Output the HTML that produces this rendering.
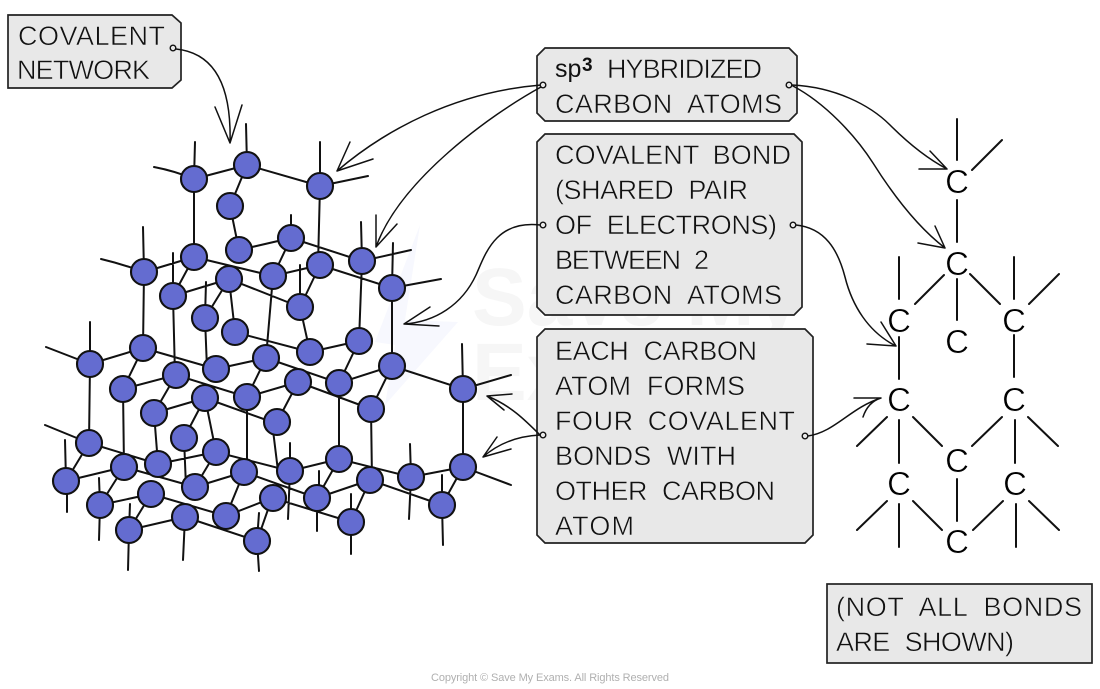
<!DOCTYPE html>
<html><head><meta charset="utf-8"><style>
html,body{margin:0;padding:0;background:#fff}
svg{display:block}
.t{font-family:"Liberation Sans",sans-serif;font-size:27px;fill:#111}
.c{font-family:"Liberation Sans",sans-serif;font-size:33px;fill:#000;text-anchor:middle}
.box{fill:#e8e8e8;stroke:#222;stroke-width:1.7}
.w{font-family:"Liberation Sans",sans-serif;font-weight:bold;font-size:82px;fill:#f6f6f6}
</style></head><body>
<svg width="1100" height="689" viewBox="0 0 1100 689" xmlns="http://www.w3.org/2000/svg">
<polygon points="375,342 420,225 405,320 458,322 385,405 395,345" fill="#f7f8fe"/>
<text class="w" x="472" y="325">Save My</text>
<text class="w" x="472" y="400">Exams</text>

<!-- network bonds -->
<path fill="none" stroke="#111" stroke-width="2" stroke-linecap="round" d="
M194,179L247,165 M154,167Q175,171 194,179 M195,142L194,179 M246,124L247,165 M247,165L320,186 M247,165L230,206 M230,206L239,250 M239,250L291,238 M194,179L194,257 M320,186L318,265 M320,142L320,186 M320,186L368,176
M291,238L273,276 M291,238L291,215 M291,238L362,261 M320,265L392,288 M273,276L320,265 M320,265L300,307 M300,265L300,307 M194,257L273,276 M229,279L300,307 M229,279L173,296 M194,257L173,296 M144,272L194,257 M144,272L143,227 M101,259Q122,264 144,272 M173,253L173,296 M205,318L229,279 M206,282L205,318 M229,279L235,332 M144,272L143,348 M173,296L175,375 M205,318L207,369 M273,276L266,358
M90,364L46,347 M90,322L90,364 M90,364L143,348 M143,348L123,389 M143,348L216,369 M123,389L176,375 M176,375L154,413 M176,375L247,397 M216,369L266,358 M266,358L247,397 M247,397L298,382 M205,398L272,422 M205,398L154,413 M205,398L184,438 M205,398L216,452 M247,397L247,472 M90,364L89,443 M123,389L124,467 M154,413L158,464 M184,438L186,487 M89,443L45,425 M89,443L158,464 M89,443L66,481 M66,481L124,467 M65,440L66,481 M67,481L67,512 M124,467L195,487 M124,467L100,505 M100,505L151,494 M99,478L100,505 M100,505L99,540 M158,464L216,452 M216,452L195,487 M216,452L290,471 M195,487L244,472 M244,472L226,516 M151,494L129,530 M151,494L226,516 M129,530L185,517 M130,504L129,530 M129,530L128,570 M185,517L183,560 M185,517L257,541 M226,516L272,498 M257,541L259,513 M257,541L259,571 M257,541L272,498 M244,472L317,498 M273,498L351,522
M290,471L339,459 M339,459L317,498 M317,498L370,480 M370,480L351,522 M339,459L411,477 M411,477L463,467 M370,480L442,505 M442,505L463,467 M463,467L511,485 M463,389L463,467 M290,443L290,471 M290,471L288,519 M317,498L317,531 M319,471L319,498 M351,494L351,522 M351,522L351,554 M410,444L411,477 M411,477L409,519 M442,475L442,505 M442,505L443,545 M272,422L278,471 M339,383L339,459 M371,409L372,480
M300,307L310,352 M310,352L359,341 M359,341L339,383 M339,383L392,366 M392,366L371,409 M392,366L463,389 M392,288L392,366 M362,261L359,341 M362,261L361,222 M362,261L411,250 M392,288L393,243 M392,288L441,279 M463,389L462,344 M463,389L511,375 M298,382L371,409 M298,382L277,422 M234,332L310,352 M266,358L339,383"/>

<!-- atoms -->
<g fill="#646cd0" stroke="#111" stroke-width="2.1">
<circle cx="194" cy="179" r="13"/><circle cx="247" cy="165" r="13"/><circle cx="320" cy="186" r="13"/><circle cx="230" cy="206" r="13"/><circle cx="239" cy="250" r="13"/><circle cx="291" cy="238" r="13"/><circle cx="194" cy="257" r="13"/><circle cx="144" cy="272" r="13"/><circle cx="173" cy="296" r="13"/><circle cx="229" cy="279" r="13"/><circle cx="273" cy="276" r="13"/><circle cx="320" cy="265" r="13"/><circle cx="362" cy="261" r="13"/><circle cx="392" cy="288" r="13"/><circle cx="300" cy="307" r="13"/><circle cx="205" cy="318" r="13"/><circle cx="235" cy="332" r="13"/><circle cx="266" cy="358" r="13"/><circle cx="310" cy="352" r="13"/><circle cx="359" cy="341" r="13"/><circle cx="392" cy="366" r="13"/><circle cx="339" cy="383" r="13"/><circle cx="298" cy="382" r="13"/><circle cx="371" cy="409" r="13"/><circle cx="463" cy="389" r="13"/>
<circle cx="90" cy="364" r="13"/><circle cx="143" cy="348" r="13"/><circle cx="123" cy="389" r="13"/><circle cx="176" cy="375" r="13"/><circle cx="216" cy="369" r="13"/><circle cx="154" cy="413" r="13"/><circle cx="205" cy="398" r="13"/><circle cx="247" cy="397" r="13"/><circle cx="277" cy="422" r="13"/><circle cx="184" cy="438" r="13"/><circle cx="216" cy="452" r="13"/><circle cx="89" cy="443" r="13"/><circle cx="66" cy="481" r="13"/><circle cx="124" cy="467" r="13"/><circle cx="158" cy="464" r="13"/><circle cx="195" cy="487" r="13"/><circle cx="244" cy="472" r="13"/><circle cx="100" cy="505" r="13"/><circle cx="151" cy="494" r="13"/><circle cx="129" cy="530" r="13"/><circle cx="185" cy="517" r="13"/><circle cx="226" cy="516" r="13"/><circle cx="257" cy="541" r="13"/><circle cx="290" cy="471" r="13"/><circle cx="273" cy="498" r="13"/><circle cx="339" cy="459" r="13"/><circle cx="317" cy="498" r="13"/><circle cx="351" cy="522" r="13"/><circle cx="370" cy="480" r="13"/><circle cx="411" cy="477" r="13"/><circle cx="463" cy="467" r="13"/><circle cx="442" cy="505" r="13"/>
</g>

<!-- boxes -->
<polygon class="box" points="8,15 172,15 181,23 181,80 172,88 8,88"/>
<polygon class="box" points="545,48 789,48 797,56 797,113 789,121 545,121 537,113 537,56"/>
<polygon class="box" points="545,134 794,134 802,142 802,307 794,315 545,315 537,307 537,142"/>
<polygon class="box" points="545,329 805,329 813,337 813,535 805,543 545,543 537,535 537,337"/>
<rect class="box" x="827" y="584" width="265" height="79"/>

<!-- labels -->
<g stroke="#e8e8e8" stroke-width="0.55">
<text class="t" x="18" y="45" textLength="147">COVALENT</text>
<text class="t" x="17" y="79" textLength="133">NETWORK</text>
<text class="t" x="555" y="77" style="font-size:25px" stroke="none">sp</text>
<text class="t" x="582" y="71" style="font-size:19px;font-weight:bold" stroke="none">3</text>
<text class="t" x="607" y="78" textLength="155">HYBRIDIZED</text>
<text class="t" x="555" y="113" textLength="227" style="word-spacing:8px">CARBON ATOMS</text>
<text class="t" x="555" y="164" textLength="236" style="word-spacing:6px">COVALENT BOND</text>
<text class="t" x="555" y="199" textLength="193" style="word-spacing:8px">(SHARED PAIR</text>
<text class="t" x="555" y="234" textLength="222" style="word-spacing:8px">OF ELECTRONS)</text>
<text class="t" x="555" y="269" textLength="154" style="word-spacing:8px">BETWEEN 2</text>
<text class="t" x="555" y="304" textLength="227" style="word-spacing:8px">CARBON ATOMS</text>
<text class="t" x="555" y="360" textLength="202" style="word-spacing:8px">EACH CARBON</text>
<text class="t" x="555" y="395" textLength="190" style="word-spacing:8px">ATOM FORMS</text>
<text class="t" x="555" y="430" textLength="240" style="word-spacing:6px">FOUR COVALENT</text>
<text class="t" x="555" y="465" textLength="181" style="word-spacing:8px">BONDS WITH</text>
<text class="t" x="555" y="500" textLength="220" style="word-spacing:8px">OTHER CARBON</text>
<text class="t" x="555" y="535" textLength="79">ATOM</text>
<text class="t" x="836" y="616" textLength="246" style="word-spacing:8px">(NOT ALL BONDS</text>
<text class="t" x="836" y="651" textLength="178" style="word-spacing:8px">ARE SHOWN)</text>
</g>

<!-- carbon skeleton -->
<g stroke="#fff" stroke-width="0.5">
<text class="c" x="957" y="193">C</text><text class="c" x="957" y="275">C</text><text class="c" x="899" y="332">C</text><text class="c" x="1014" y="332">C</text><text class="c" x="957" y="353">C</text><text class="c" x="899" y="411">C</text><text class="c" x="1014" y="411">C</text><text class="c" x="957" y="472">C</text><text class="c" x="899" y="495">C</text><text class="c" x="1015" y="495">C</text><text class="c" x="957" y="553">C</text>
</g>
<path fill="none" stroke="#111" stroke-width="2" stroke-linecap="round" d="
M957,119L957,160 M972,170L1002,140 M957,200L957,242 M944,275L915,304 M957,279L957,320 M970,274L1000,304 M899,257L899,299 M1014,257L1014,299 M1029,304L1059,274
M899,337L899,379 M1014,335L1014,377 M887,417L857,446 M899,420L899,463 M913,417L942,446 M972,446L1002,417 M1015,420L1015,463 M1028,417L1058,446 M887,501L857,530 M899,504L899,547 M913,501L942,530 M957,479L957,521 M973,530L1003,501 M1016,504L1016,547 M1029,501L1059,530"/>

<!-- connectors -->
<g fill="none" stroke="#111" stroke-width="1.5" stroke-linecap="round" stroke-linejoin="round">
<path d="M176,49C205,52 232,72 230,143 M215,107L230,143L242,105"/>
<path d="M541,85C455,92 385,130 337,171 M350,142L337,171L373,159"/>
<path d="M541,87C490,115 400,180 376,247 M376,215L376,247L397,224"/>
<path d="M540,225C495,220 485,255 476,275C462,305 435,322 404,324 M430,307L404,324L439,326"/>
<path d="M540,435C525,420 510,405 487,396 M512,394L487,396L504,410"/>
<path d="M540,435C520,436 500,442 483,457 M497,437L483,457L511,449"/>
<path d="M792,85C835,87 870,105 890,125C910,145 930,160 947,169 M930,151L947,169L919,169"/>
<path d="M793,86C825,103 855,135 873,163C890,190 915,225 945,248 M935,226L945,248L918,243"/>
<path d="M796,225C825,228 838,250 845,277C852,305 868,332 896,346 M881,322L896,346L867,344"/>
<path d="M808,436C835,432 850,408 881,398 M854,398L881,398Q868,402 863,417"/>
</g>
<g fill="#e8e8e8" stroke="#111" stroke-width="1.4">
<circle cx="173" cy="48" r="2.8"/><circle cx="543" cy="85" r="2.8"/><circle cx="789" cy="85" r="2.8"/><circle cx="543" cy="225" r="2.8"/><circle cx="793" cy="225" r="2.8"/><circle cx="543" cy="435" r="2.8"/><circle cx="805" cy="436" r="2.8"/>
</g>

<text x="550" y="681" text-anchor="middle" textLength="238" font-family="Liberation Sans, sans-serif" font-size="11" fill="#b0b0b0">Copyright © Save My Exams. All Rights Reserved</text>
</svg>
</body></html>
